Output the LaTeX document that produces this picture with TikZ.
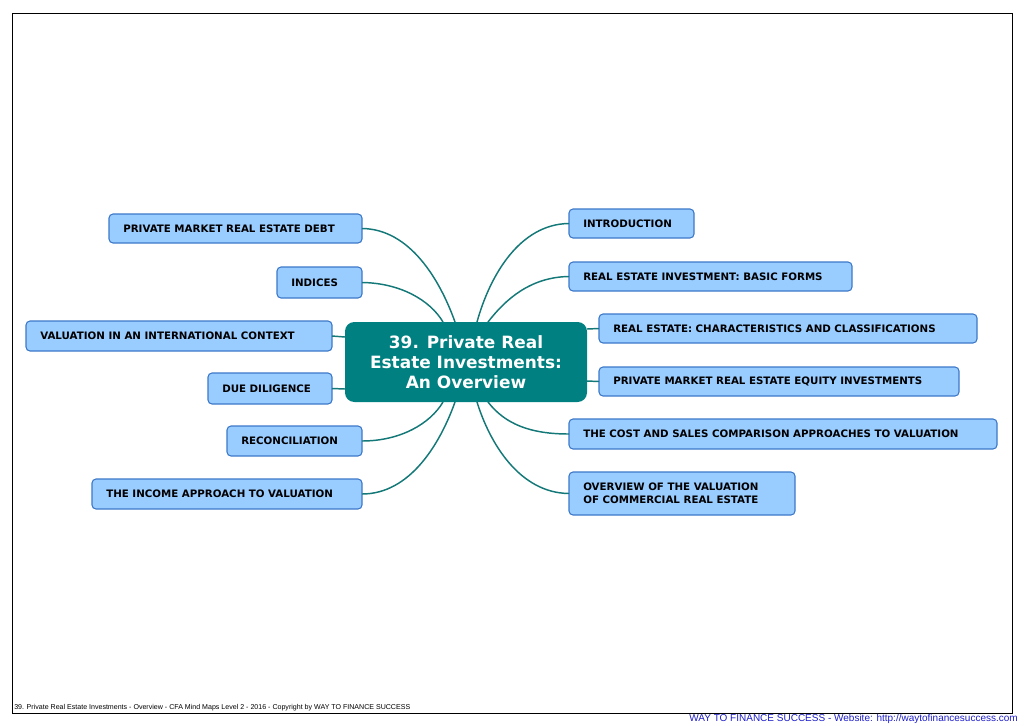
\documentclass[tikz,border=0pt]{standalone}
\usepackage{fontspec}
\setmainfont{DejaVu Sans}
\newfontfamily\arialf{Liberation Sans}
\definecolor{teal1}{RGB}{0,128,128}
\definecolor{link}{RGB}{20,120,120}
\definecolor{boxfill}{RGB}{153,204,255}
\definecolor{boxline}{RGB}{60,120,200}
\definecolor{footblue}{RGB}{30,30,200}
\tikzset{
 conn/.style={draw=link,line width=1.1pt}
}
\newcommand{\leafbox}[6]{% name, x1,y1,x2,y2,text
 \draw[draw=boxline,fill=boxfill,rounded corners=3pt,line width=0.8pt] (#2,#3) rectangle (#4,#5);
 \node[font=\fontsize{7.7}{9.5}\selectfont\bfseries,align=left,anchor=west,inner sep=0pt] (#1) at (#2+14,{(#3+#5)/2}) {#6};
 \coordinate (#1L) at (#2,{(#3+#5)/2});
 \coordinate (#1R) at (#4,{(#3+#5)/2});
}
\begin{document}
\begin{tikzpicture}[x=0.75pt,y=-0.75pt]
\useasboundingbox (0,0) rectangle (1024,725);
\draw[line width=0.7pt] (12,13) rectangle (1012,713);
% connectors
\coordinate (ct1) at (443,322); \coordinate (ct2) at (455,322);
\coordinate (ct3) at (477,322); \coordinate (ct4) at (488,322);
\coordinate (cb1) at (443,402); \coordinate (cb2) at (455,402);
\coordinate (cb3) at (477,402); \coordinate (cb4) at (488,402);
\coordinate (cl1) at (345,337); \coordinate (cl2) at (345,389);
\coordinate (cr1) at (587,329); \coordinate (cr2) at (587,381);

\leafbox{debt}{109}{214}{362}{243}{PRIVATE MARKET REAL ESTATE DEBT}
\leafbox{ind}{277}{267}{362}{298}{INDICES}
\leafbox{intl}{26}{321}{332}{351}{VALUATION IN AN INTERNATIONAL CONTEXT}
\leafbox{dd}{208}{373}{332}{404}{DUE DILIGENCE}
\leafbox{rec}{227}{426}{362}{456}{RECONCILIATION}
\leafbox{inc}{92}{479}{362}{509}{THE INCOME APPROACH TO VALUATION}
\leafbox{intro}{569}{209}{694}{238}{INTRODUCTION}
\leafbox{basic}{569}{262}{852}{291}{REAL ESTATE INVESTMENT: BASIC FORMS}
\leafbox{char}{599}{314}{977}{343}{REAL ESTATE: CHARACTERISTICS AND CLASSIFICATIONS}
\leafbox{eq}{599}{367}{959}{396}{PRIVATE MARKET REAL ESTATE EQUITY INVESTMENTS}
\leafbox{cost}{569}{419}{997}{449}{THE COST AND SALES COMPARISON APPROACHES TO VALUATION}
\leafbox{ov}{569}{472}{795}{515}{OVERVIEW OF THE VALUATION\\OF COMMERCIAL REAL ESTATE}

\draw[conn] (debtR) .. controls (410,229) and (440,280) .. (ct2);
\draw[conn] (indR) .. controls (400,283) and (430,300) .. (ct1);
\draw[conn] (intlR) -- (cl1);
\draw[conn] (ddR) -- (cl2);
\draw[conn] (recR) .. controls (400,441) and (430,424) .. (cb1);
\draw[conn] (incR) .. controls (410,494) and (440,444) .. (cb2);
\draw[conn] (introL) .. controls (520,224) and (490,275) .. (ct3);
\draw[conn] (basicL) .. controls (530,277) and (505,300) .. (ct4);
\draw[conn] (charL) -- (cr1);
\draw[conn] (eqL) -- (cr2);
\draw[conn] (costL) .. controls (530,434) and (505,424) .. (cb4);
\draw[conn] (ovL) .. controls (520,493) and (490,444) .. (cb3);

\node[fill=teal1,rounded corners=7pt,minimum width=242*0.75pt,minimum height=80*0.75pt,inner sep=0pt,text=white,font=\fontsize{12.7}{15}\selectfont\bfseries,align=center] (center) at (466,362) {39. Private Real\\Estate Investments:\\An Overview};

\node[anchor=south west,inner sep=0pt,font=\arialf\fontsize{5.3}{6}\selectfont] (foot1) at (14,711) {39. Private Real Estate Investments - Overview - CFA Mind Maps Level 2 - 2016 - Copyright by WAY TO FINANCE SUCCESS};
\node[anchor=north east,inner sep=0pt,text=footblue,font=\arialf\fontsize{7.5}{9}\selectfont] (foot2) at (1018,714) {WAY TO FINANCE SUCCESS - Website: http://waytofinancesuccess.com};
\end{tikzpicture}
\end{document}
